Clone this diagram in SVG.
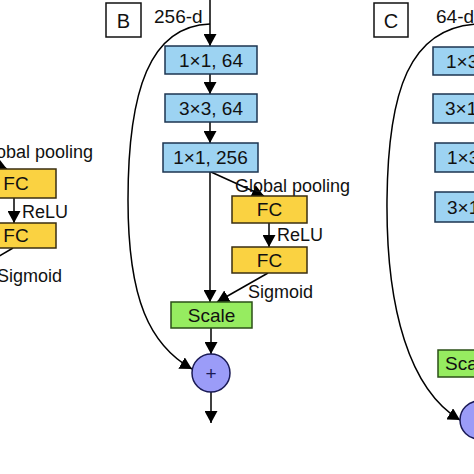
<svg xmlns="http://www.w3.org/2000/svg" width="474" height="474" viewBox="0 0 474 474">
<defs>
<marker id="ah" markerUnits="userSpaceOnUse" markerWidth="13" markerHeight="13" refX="12" refY="6.5" orient="auto">
<path d="M0,0 L12,6.5 L0,13 z" fill="#000"/>
</marker>
<style>
text{font-family:"Liberation Sans",Arial,sans-serif;fill:#111}
.t{font-size:18px}
.bl{fill:#9dd3f2;stroke:#1c3550;stroke-width:1.5}
.ye{fill:#fad241;stroke:#3a2e10;stroke-width:1.5}
.gr{fill:#96ec60;stroke:#2b4f17;stroke-width:1.5}
.ci{fill:#9b9cf8;stroke:#1a1a55;stroke-width:1.5}
.lb{fill:#fff;stroke:#111;stroke-width:1.5}
.ln{fill:none;stroke:#000;stroke-width:1.5}
.a{marker-end:url(#ah)}
.c{text-anchor:middle;font-size:19px}
</style>
</defs>
<rect width="474" height="474" fill="#fff"/>

<g id="connectors">
<!-- panel A (partial) -->
<line class="ln a" x1="-47" y1="145" x2="7" y2="169"/>
<line class="ln a" x1="14" y1="198" x2="14" y2="223"/>
<line class="ln" x1="13" y1="248" x2="-37" y2="277"/>
<!-- panel B -->
<line class="ln a" x1="210" y1="0" x2="210" y2="46"/>
<line class="ln a" x1="210" y1="74" x2="210" y2="94"/>
<line class="ln a" x1="210" y1="122" x2="210" y2="143"/>
<line class="ln a" x1="210" y1="172" x2="210" y2="302"/>
<line class="ln a" x1="211" y1="172" x2="264" y2="196"/>
<line class="ln a" x1="269" y1="223" x2="269" y2="247"/>
<line class="ln a" x1="268" y1="273" x2="217" y2="302"/>
<line class="ln a" x1="211" y1="328" x2="211" y2="354"/>
<line class="ln a" x1="211" y1="392" x2="211" y2="423"/>
<path class="ln a" d="M210,24 C150,26 128,90 128,200 C128,300 150,345 192,369"/>
<!-- panel C (partial) -->
<path class="ln a" d="M476,24 C410,28 388,90 387,200 C386,310 410,390 460,420"/>
</g>

<g id="panelA">
<text class="t" x="93" y="158" text-anchor="end">Global pooling</text>
<g id="A_fc1"><rect class="ye" x="-20" y="169" width="76" height="29"/><text class="c" x="16" y="190">FC</text></g>
<text class="t" x="22" y="218">ReLU</text>
<g id="A_fc2"><rect class="ye" x="-20" y="223" width="76" height="25"/><text class="c" x="16" y="242">FC</text></g>
<text class="t" x="62" y="282" text-anchor="end">Sigmoid</text>
</g>

<g id="panelB">
<g id="B_label"><rect class="lb" x="106" y="3" width="35" height="34"/><text x="123.5" y="28" text-anchor="middle" font-size="20">B</text></g>
<text x="154" y="23" font-size="19">256-d</text>
<g id="B_conv1"><rect class="bl" x="165" y="46" width="92" height="28"/><text class="c" x="211" y="67">1×1, 64</text></g>
<g id="B_conv2"><rect class="bl" x="165" y="94" width="92" height="28"/><text class="c" x="211" y="115">3×3, 64</text></g>
<g id="B_conv3"><rect class="bl" x="163" y="143" width="95" height="29"/><text class="c" x="210.5" y="164">1×1, 256</text></g>
<text class="t" x="235" y="192">Global pooling</text>
<g id="B_fc1"><rect class="ye" x="232" y="196" width="75" height="27"/><text class="c" x="269.5" y="216">FC</text></g>
<text class="t" x="277" y="241">ReLU</text>
<g id="B_fc2"><rect class="ye" x="232" y="247" width="75" height="26"/><text class="c" x="269.5" y="267">FC</text></g>
<text class="t" x="248" y="298">Sigmoid</text>
<g id="B_scale"><rect class="gr" x="171" y="302" width="81" height="26"/><text class="c" x="211.5" y="322">Scale</text></g>
<g id="B_sum"><circle class="ci" cx="211" cy="373" r="19"/><text x="211" y="380" text-anchor="middle" font-size="19" style="fill:#1a1a55">+</text></g>
</g>

<g id="panelC">
<g id="C_label"><rect class="lb" x="374" y="3" width="34" height="34"/><text x="391" y="28" text-anchor="middle" font-size="20">C</text></g>
<text x="436" y="23" font-size="19">64-d</text>
<g id="C_conv1"><rect class="bl" x="433" y="47" width="60" height="28"/><text x="446" y="68" font-size="19">1×3</text></g>
<g id="C_conv2"><rect class="bl" x="433" y="94" width="60" height="29"/><text x="445" y="115" font-size="19">3×1</text></g>
<g id="C_conv3"><rect class="bl" x="435" y="143" width="60" height="29"/><text x="447" y="164" font-size="19">1×3</text></g>
<g id="C_conv4"><rect class="bl" x="435" y="192" width="60" height="30"/><text x="447" y="214" font-size="19">3×1</text></g>
<g id="C_scale"><rect class="gr" x="438" y="350" width="60" height="27"/><text x="445" y="370" font-size="19">Scale</text></g>
<g id="C_sum"><circle class="ci" cx="479" cy="420" r="19"/></g>
</g>
</svg>
